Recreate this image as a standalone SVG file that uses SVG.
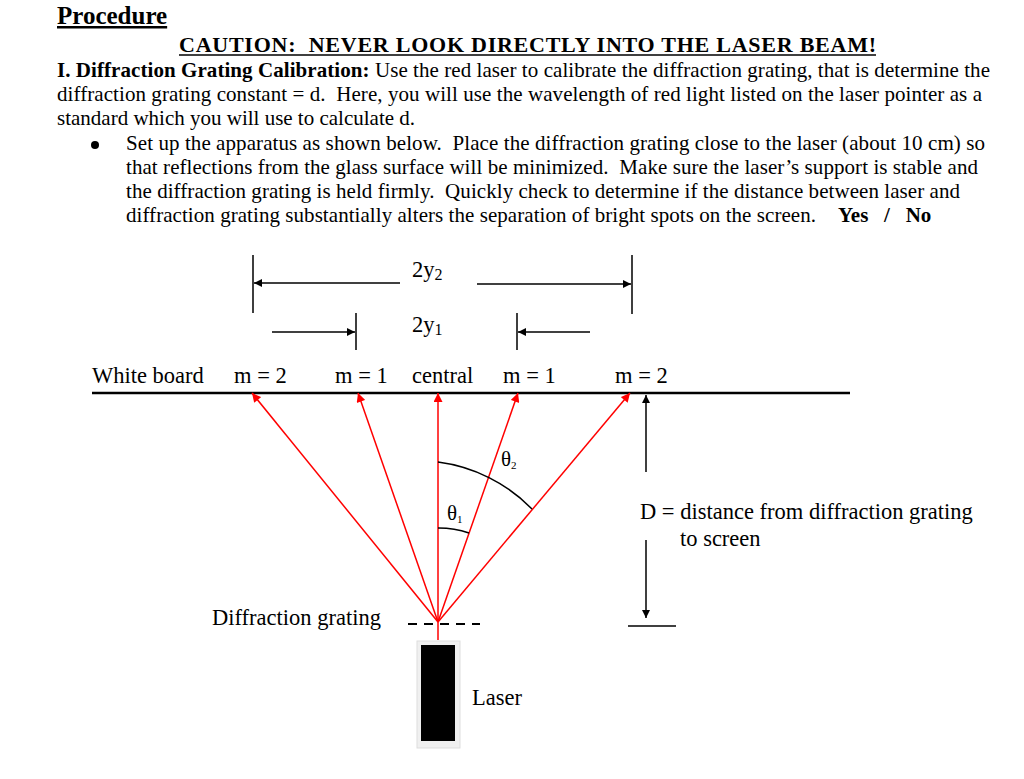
<svg xmlns="http://www.w3.org/2000/svg" width="1024" height="779" viewBox="0 0 1024 779">
<defs>
<marker id="ab" viewBox="0 0 10 10" refX="10" refY="5" markerWidth="10" markerHeight="8" markerUnits="userSpaceOnUse" orient="auto"><path d="M0,0L10,5L0,10z" fill="#000"/></marker>
<marker id="ar" viewBox="0 0 10 10" refX="10" refY="5" markerWidth="10" markerHeight="9" markerUnits="userSpaceOnUse" orient="auto"><path d="M0,0L10,5L0,10z" fill="#f00"/></marker>
<style>
text{font-family:"Liberation Serif","Times New Roman",serif;font-size:21px;fill:#000;white-space:pre}
.d{font-size:22.5px}
.b{font-weight:bold}
.k{stroke:#000;stroke-width:1.5;fill:none}
.r{stroke:#f00;stroke-width:1.5;fill:none}
</style>
</defs>
<rect width="1024" height="779" fill="#fff"/>
<g id="text">
<text x="57" y="24" class="b" text-decoration="underline" style="font-size:25px">Procedure</text>
<text x="179" y="52" class="b" style="font-size:22px" textLength="697" lengthAdjust="spacing">CAUTION:  NEVER LOOK DIRECTLY INTO THE LASER BEAM!</text>
<path d="M179,55H876" stroke="#000" stroke-width="1.5"/>
<text x="57" y="77" textLength="933" lengthAdjust="spacing"><tspan class="b">I. Diffraction Grating Calibration:</tspan> Use the red laser to calibrate the diffraction grating, that is determine the</text>
<text x="57" y="101" textLength="925" lengthAdjust="spacing">diffraction grating constant = d.  Here, you will use the wavelength of red light listed on the laser pointer as a</text>
<text x="57" y="125">standard which you will use to calculate d.</text>
<circle cx="95" cy="145" r="4" fill="#000"/>
<text x="126" y="150" textLength="859" lengthAdjust="spacing">Set up the apparatus as shown below.  Place the diffraction grating close to the laser (about 10 cm) so</text>
<text x="126" y="174" textLength="852" lengthAdjust="spacing">that reflections from the glass surface will be minimized.  Make sure the laser’s support is stable and</text>
<text x="126" y="198" textLength="834" lengthAdjust="spacing">the diffraction grating is held firmly.  Quickly check to determine if the distance between laser and</text>
<text x="126" y="222" textLength="690" lengthAdjust="spacing">diffraction grating substantially alters the separation of bright spots on the screen.</text>
<text x="838" y="222" class="b">Yes   /   No</text>
</g>
<g id="dimensions">
<path class="k" d="M253,255V313M632,255V314M356,313V350M517,313V350"/>
<path class="k" d="M400,283H254" marker-end="url(#ab)"/>
<path class="k" d="M477,284H631" marker-end="url(#ab)"/>
<path class="k" d="M272,332H355" marker-end="url(#ab)"/>
<path class="k" d="M590,332H518" marker-end="url(#ab)"/>
<text class="d" x="412" y="277">2y<tspan font-size="16" dy="3">2</tspan></text>
<text class="d" x="412" y="332">2y<tspan font-size="16" dy="3">1</tspan></text>
</g>
<g id="board">
<path d="M92,393H850" stroke="#000" stroke-width="2.5"/>
<text class="d" x="92" y="383">White board</text>
<text class="d" x="234" y="383">m = 2</text>
<text class="d" x="335" y="383">m = 1</text>
<text class="d" x="412" y="383">central</text>
<text class="d" x="503" y="383">m = 1</text>
<text class="d" x="615" y="383">m = 2</text>
</g>
<g id="rays">
<path class="r" d="M438,622L252,393" marker-end="url(#ar)"/>
<path class="r" d="M438,622L358,393" marker-end="url(#ar)"/>
<path class="r" d="M438,622L438,393" marker-end="url(#ar)"/>
<path class="r" d="M438,622L518,393" marker-end="url(#ar)"/>
<path class="r" d="M438,622L630,393" marker-end="url(#ar)"/>
<path class="r" d="M438,622V640"/>
<path class="k" d="M438,528A94,94 0 0 1 469,533" stroke-width="1.2"/>
<path class="k" d="M438,462A160,160 0 0 1 532,509" stroke-width="1.2"/>
<text x="447" y="520">θ<tspan font-size="11" dy="3">1</tspan></text>
<text x="501" y="466">θ<tspan font-size="11" dy="3">2</tspan></text>
</g>
<g id="grating">
<path d="M408,624H480" stroke="#000" stroke-width="2" stroke-dasharray="9,7"/>
<text class="d" x="212" y="625">Diffraction grating</text>
</g>
<g id="laser">
<rect x="417" y="641" width="43" height="107" fill="#f0f0f0" stroke="#ddd"/>
<rect x="421" y="645" width="34" height="96" fill="#000"/>
<text class="d" x="472" y="705">Laser</text>
</g>
<g id="distance">
<path class="k" d="M646,472V395" marker-end="url(#ab)"/>
<path class="k" d="M646,540V618" marker-end="url(#ab)"/>
<path class="k" d="M628,626H676"/>
<text class="d" x="640" y="519">D = distance from diffraction grating</text>
<text class="d" x="680" y="546">to screen</text>
</g>
</svg>
